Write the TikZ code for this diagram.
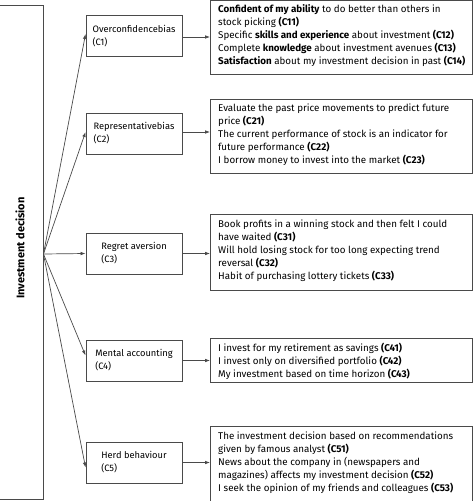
\documentclass[tikz,border=0pt]{standalone}
\usepackage{fontspec}
\setmainfont{Fira Sans}
\usetikzlibrary{arrows.meta}
\definecolor{edge}{HTML}{4A4A4A}
\begin{document}
\begin{tikzpicture}[x=1pt,y=-1pt,
  box/.style={draw=edge,line width=0.9pt,inner sep=0pt},
  mid/.style={box,minimum width=96pt,minimum height=41pt,align=left,font=\fontsize{9.3pt}{13pt}\selectfont},
  itembox/.style={box,minimum width=261.5pt},
  itemtext/.style={inner sep=0pt,anchor=west,align=left,font=\fontsize{9.8pt}{13pt}\selectfont},
  arr/.style={draw=edge,line width=0.7pt,-{Latex[length=5pt,width=3.6pt]}}
]
\useasboundingbox (0,0) rectangle (474,501);
% left box
\node[box,minimum width=46pt,minimum height=494pt] (inv) at (20,252) {};
\node[rotate=90,font=\fontsize{11pt}{13pt}\selectfont\bfseries] (invt) at (20,248) {Investment decision};
% middle boxes
\node[mid] (c1) at (134,36) {Overconfidencebias\\(C1)};
\node[mid] (c2) at (134,133.5) {Representativebias\\(C2)};
\node[mid] (c3) at (134,253.5) {Regret aversion\\(C3)};
\node[mid] (c4) at (134,360.5) {Mental accounting\\(C4)};
\node[mid] (c5) at (134,462.5) {Herd behaviour\\(C5)};
% right boxes
\node[itembox,minimum height=74pt] (r1) at (341.25,37) {};
\node[itembox,minimum height=74pt] (r2) at (341.25,136) {};
\node[itembox,minimum height=76pt] (r3) at (341.25,252) {};
\node[itembox,minimum height=44pt] (r4) at (341.25,360) {};
\node[itembox,minimum height=79pt] (r5) at (341.25,465.5) {};
\node[itemtext] (r1t) at (218,36) {\textbf{Confident of my ability} to do better than others in\\
stock picking \textbf{(C11)}\\
Specific \textbf{skills and experience} about investment \textbf{(C12)}\\
Complete \textbf{knowledge} about investment avenues \textbf{(C13)}\\
\textbf{Satisfaction} about my investment decision in past \textbf{(C14)}};
\node[itemtext] (r2t) at (218,134.5) {Evaluate the past price movements to predict future\\
price \textbf{(C21)}\\
The current performance of stock is an indicator for\\
future performance \textbf{(C22)}\\
I borrow money to invest into the market \textbf{(C23)}};
\node[itemtext] (r3t) at (218,251) {Book profits in a winning stock and then felt I could\\
have waited \textbf{(C31)}\\
Will hold losing stock for too long expecting trend\\
reversal \textbf{(C32)}\\
Habit of purchasing lottery tickets \textbf{(C33)}};
\node[itemtext] (r4t) at (218,361) {I invest for my retirement as savings \textbf{(C41)}\\
I invest only on diversified portfolio \textbf{(C42)}\\
My investment based on time horizon \textbf{(C43)}};
\node[itemtext] (r5t) at (218,462.5) {The investment decision based on recommendations\\
given by famous analyst \textbf{(C51)}\\
News about the company in (newspapers and\\
magazines) affects my investment decision \textbf{(C52)}\\
I seek the opinion of my friends and colleagues \textbf{(C53)}};
% fan arrows
\coordinate (o) at ([yshift=-2pt]inv.east);
\draw[arr] (o) -- ([yshift=2pt]c1.west);
\draw[arr] (o) -- ([yshift=1.5pt]c2.west);
\draw[arr] (o) -- (c3.west);
\draw[arr] (o) -- ([yshift=5pt]c4.west);
\draw[arr] (o) -- ([yshift=-5pt]c5.west);
% horizontal arrows
\draw[arr] ([yshift=-1pt]c1.east) -- ([yshift=-1pt]c1.east -| r1.west);
\draw[arr] ([yshift=1.5pt]c2.east) -- ([yshift=1.5pt]c2.east -| r2.west);
\draw[arr] (c3.east) -- (c3.east -| r3.west);
\draw[arr] (c4.east) -- (c4.east -| r4.west);
\draw[arr] (c5.east) -- (c5.east -| r5.west);
\end{tikzpicture}
\end{document}
